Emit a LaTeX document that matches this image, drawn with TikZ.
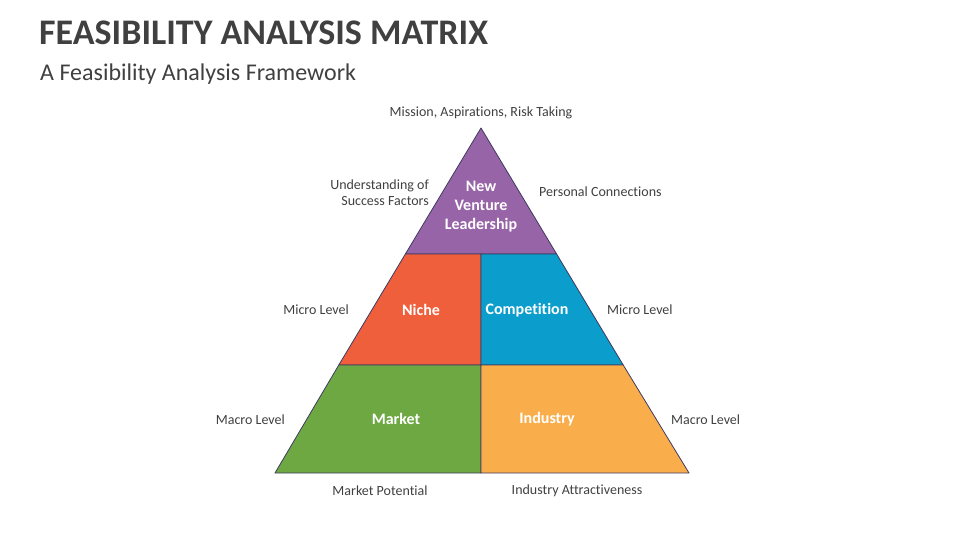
\documentclass[tikz,border=0pt]{standalone}
\usepackage{fontspec}
\setmainfont{Carlito}[Ligatures=NoCommon]
\usetikzlibrary{positioning}
\definecolor{txtgray}{RGB}{64,64,64}
\definecolor{edgecol}{RGB}{62,58,96}
\definecolor{leadcol}{RGB}{152,100,168}
\definecolor{nichecol}{RGB}{240,95,60}
\definecolor{compcol}{RGB}{11,157,203}
\definecolor{marketcol}{RGB}{110,168,67}
\definecolor{indcol}{RGB}{249,174,75}

\begin{document}
\begin{tikzpicture}[x=1pt,y=-1pt,
 cell/.style={draw=edgecol,line width=0.8pt,line join=round},
 inlbl/.style={text=white,font=\bfseries\fontsize{16}{19}\selectfont,align=center,inner sep=0pt},
 sidelbl/.style={text=txtgray,font=\fontsize{14}{16}\selectfont,inner sep=0pt}]
\useasboundingbox (0,0) rectangle (960,540);
% heading
\node[anchor=base west,text=txtgray,font=\bfseries\fontsize{36}{40}\selectfont,inner sep=0pt] (title) at (39,45) {FEASIBILITY ANALYSIS MATRIX};
\node[anchor=base west,text=txtgray,font=\fontsize{24}{28}\selectfont,inner sep=0pt] (subtitle) at (40,81) {A Feasibility Analysis Framework};
% pyramid corners
\coordinate (apex) at (481,128);
\coordinate (tl) at (405.4,254); \coordinate (tm) at (481,254); \coordinate (tr) at (556.6,254);
\coordinate (ml) at (338.8,365); \coordinate (mm) at (481,365); \coordinate (mr) at (623.2,365);
\coordinate (bl) at (275,473);   \coordinate (bm) at (481,473); \coordinate (br) at (689,473);
% cells
\filldraw[cell,fill=leadcol] (apex)--(tr)--(tl)--cycle;
\filldraw[cell,fill=nichecol] (tl)--(tm)--(mm)--(ml)--cycle;
\filldraw[cell,fill=compcol] (tm)--(tr)--(mr)--(mm)--cycle;
\filldraw[cell,fill=marketcol] (ml)--(mm)--(bm)--(bl)--cycle;
\filldraw[cell,fill=indcol] (mm)--(mr)--(br)--(bm)--cycle;
% cell labels
\node[inlbl] (lead) at (481,207) {New\\Venture\\Leadership};
\node[inlbl] (niche) at (421,310) {Niche};
\node[inlbl] (comp) at (527,310) {Competition};
\node[inlbl] (market) at (396,419) {Market};
\node[inlbl] (industry) at (547,419) {Industry};
% outer labels
\node[sidelbl] (mission) at (481,113) {Mission, Aspirations, Risk Taking};
\node[sidelbl,anchor=east,align=right] (success) at (429,193) {Understanding of\\Success Factors};
\node[sidelbl,anchor=west] (personal) at (539,192) {Personal Connections};
\node[sidelbl,anchor=east] (microl) at (349,310) {Micro Level};
\node[sidelbl,anchor=west] (micror) at (607,310) {Micro Level};
\node[sidelbl,anchor=east] (macrol) at (285,420) {Macro Level};
\node[sidelbl,anchor=west] (macror) at (671,420) {Macro Level};
\node[sidelbl] (potential) at (380,491) {Market Potential};
\node[sidelbl] (attract) at (577,491) {Industry Attractiveness};
\end{tikzpicture}
\end{document}
